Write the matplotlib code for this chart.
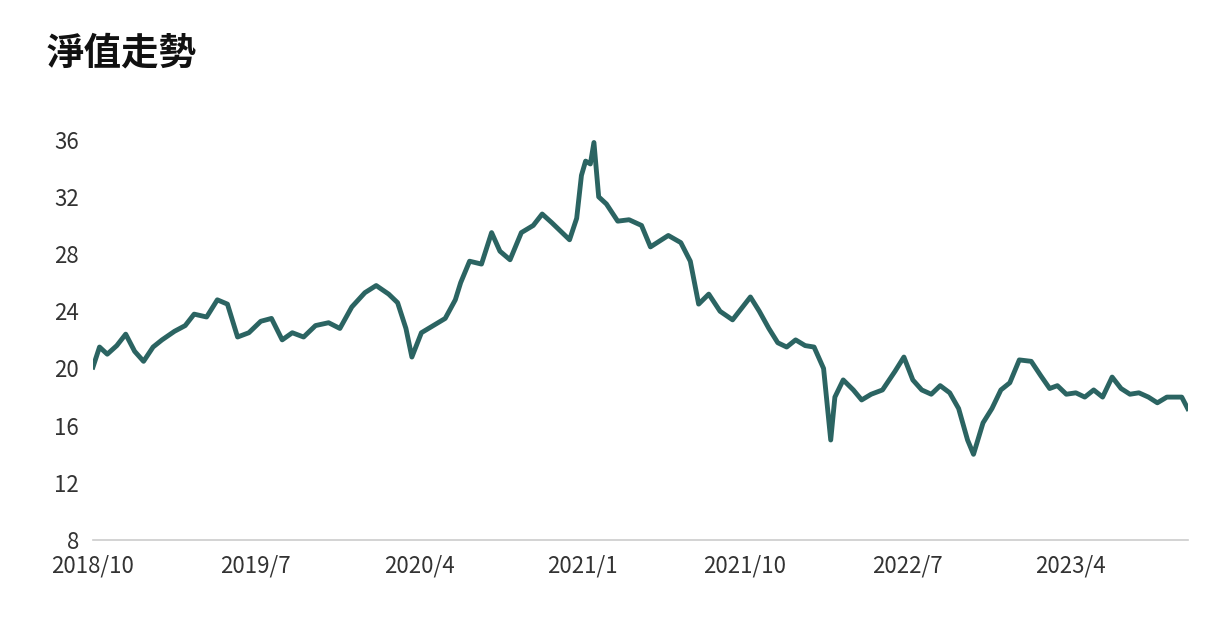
import pandas as pd
import matplotlib.pyplot as plt

plt.rcParams['font.family'] = ['Noto Sans CJK TC', 'DejaVu Sans']

dates = ["2018-10-01", "2018-10-12", "2018-10-25", "2018-11-10", "2018-11-25", "2018-12-10", "2018-12-25",
         "2019-01-10", "2019-01-25", "2019-02-15", "2019-03-05", "2019-03-20", "2019-04-10", "2019-04-28",
         "2019-05-15", "2019-06-01", "2019-06-20", "2019-07-10", "2019-07-28", "2019-08-15", "2019-09-01",
         "2019-09-20", "2019-10-10", "2019-11-01", "2019-11-20", "2019-12-10", "2020-01-01", "2020-01-20",
         "2020-02-10", "2020-02-25", "2020-03-10", "2020-03-20", "2020-04-05", "2020-04-25", "2020-05-15",
         "2020-06-01", "2020-06-10", "2020-06-25", "2020-07-15", "2020-08-01", "2020-08-15", "2020-09-01",
         "2020-09-20", "2020-10-10", "2020-10-25", "2020-11-10", "2020-11-25", "2020-12-10", "2020-12-22",
         "2020-12-30", "2021-01-06", "2021-01-14", "2021-01-20", "2021-01-28", "2021-02-10", "2021-03-01",
         "2021-03-20", "2021-04-10", "2021-04-25", "2021-05-10", "2021-05-25", "2021-06-15", "2021-07-01",
         "2021-07-15", "2021-08-01", "2021-08-20", "2021-09-10", "2021-09-25", "2021-10-10", "2021-10-25",
         "2021-11-10", "2021-11-25", "2021-12-10", "2021-12-25", "2022-01-10", "2022-01-25", "2022-02-10",
         "2022-02-22", "2022-03-01", "2022-03-15", "2022-04-01", "2022-04-15", "2022-05-01", "2022-05-20",
         "2022-06-10", "2022-06-25", "2022-07-10", "2022-07-25", "2022-08-10", "2022-08-25", "2022-09-10",
         "2022-09-25", "2022-10-10", "2022-10-20", "2022-11-05", "2022-11-20", "2022-12-05", "2022-12-20",
         "2023-01-05", "2023-01-25", "2023-02-10", "2023-02-25", "2023-03-10", "2023-03-25", "2023-04-10",
         "2023-04-25", "2023-05-10", "2023-05-25", "2023-06-10", "2023-06-25", "2023-07-10", "2023-07-25",
         "2023-08-10", "2023-08-25", "2023-09-10", "2023-09-25", "2023-10-05", "2023-10-15"]
nav = [20.1, 21.5, 21.0, 21.6, 22.4, 21.2, 20.5,
       21.5, 22.0, 22.6, 23.0, 23.8, 23.6, 24.8,
       24.5, 22.2, 22.5, 23.3, 23.5, 22.0, 22.5,
       22.2, 23.0, 23.2, 22.8, 24.3, 25.3, 25.8,
       25.2, 24.6, 22.8, 20.8, 22.5, 23.0, 23.5,
       24.8, 26.0, 27.5, 27.3, 29.5, 28.2, 27.6,
       29.5, 30.0, 30.8, 30.2, 29.6, 29.0, 30.5,
       33.5, 34.5, 34.3, 35.8, 32.0, 31.5, 30.3,
       30.4, 30.0, 28.5, 28.9, 29.3, 28.8, 27.5,
       24.5, 25.2, 24.0, 23.4, 24.2, 25.0, 24.0,
       22.8, 21.8, 21.5, 22.0, 21.6, 21.5, 20.0,
       15.0, 18.0, 19.2, 18.5, 17.8, 18.2, 18.5,
       19.8, 20.8, 19.2, 18.5, 18.2, 18.8, 18.3,
       17.2, 15.0, 14.0, 16.2, 17.2, 18.5, 19.0,
       20.6, 20.5, 19.5, 18.6, 18.8, 18.2, 18.3,
       18.0, 18.5, 18.0, 19.4, 18.6, 18.2, 18.3,
       18.0, 17.6, 18.0, 18.0, 18.0, 17.2]

ticks = ["2018-10-01", "2019-07-01", "2020-04-01", "2021-01-01", "2021-10-01", "2022-07-01", "2023-04-01"]
tick_labels = ["2018/10", "2019/7", "2020/4", "2021/1", "2021/10", "2022/7", "2023/4"]

fig = plt.figure(figsize=(12.3, 6.18), dpi=100)
ax = fig.add_axes([0.0756, 0.126, 0.89, 0.655])
ax.plot(pd.to_datetime(dates), nav, color="#2b6462", lw=3.5, solid_joinstyle="round")

ax.set_xlim(pd.Timestamp("2018-10-01"), pd.Timestamp("2023-10-15"))
ax.set_ylim(8, 36.3)
ax.set_yticks(range(8, 37, 4))
ax.set_xticks(pd.to_datetime(ticks))
ax.set_xticklabels(tick_labels)
ax.tick_params(length=0, labelsize=16, colors="#333333", pad=10)
for s in ["top", "right", "left"]:
    ax.spines[s].set_visible(False)
ax.spines["bottom"].set_color("#cccccc")
ax.spines["bottom"].set_linewidth(1.2)

fig.text(0.038, 0.895, "淨值走勢", fontsize=27, fontweight="bold", color="#111111")
fig.savefig("out.png", dpi=100)
